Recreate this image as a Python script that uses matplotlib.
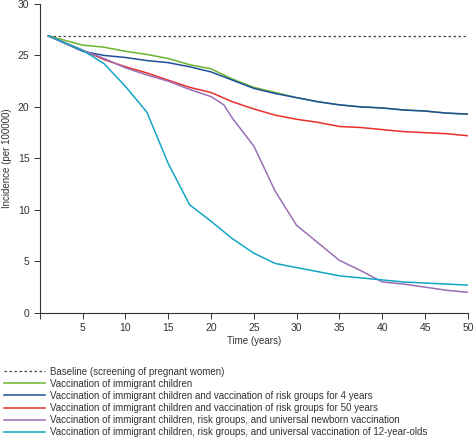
import matplotlib.pyplot as plt
from matplotlib.lines import Line2D

years = [1, 5, 7.5, 10, 12.5, 15, 17.5, 20, 22.5, 25, 27.5, 30, 32.5, 35, 37.5, 40, 42.5, 45, 47.5, 50]
baseline = 26.9
green = [26.9, 26.0, 25.8, 25.4, 25.1, 24.7, 24.1, 23.7, 22.7, 21.9, 21.4, 20.9, 20.5, 20.2, 20.0, 19.9, 19.7, 19.6, 19.4, 19.3]
blue = [26.9, 25.4, 25.0, 24.8, 24.5, 24.3, 23.9, 23.4, 22.6, 21.8, 21.3, 20.9, 20.5, 20.2, 20.0, 19.9, 19.7, 19.6, 19.4, 19.3]
red = [26.9, 25.5, 24.6, 23.9, 23.3, 22.6, 21.9, 21.4, 20.5, 19.8, 19.2, 18.8, 18.5, 18.1, 18.0, 17.8, 17.6, 17.5, 17.4, 17.2]
purple_years = [1, 5, 7.5, 10, 12.5, 15, 17.5, 20, 21.5, 22.5, 25, 27.5, 30, 32.5, 35, 37.5, 40, 42.5, 45, 47.5, 50]
purple = [26.9, 25.5, 24.7, 23.8, 23.1, 22.5, 21.7, 21.0, 20.2, 18.9, 16.2, 11.8, 8.5, 6.8, 5.1, 4.1, 3.0, 2.8, 2.5, 2.2, 2.0]
cyan_years = [1, 5, 7.5, 10, 12.5, 13.5, 15, 17.5, 20, 22.5, 25, 27.5, 30, 32.5, 35, 37.5, 40, 42.5, 45, 47.5, 50]
cyan = [26.9, 25.5, 24.2, 22.0, 19.5, 17.5, 14.5, 10.5, 8.9, 7.2, 5.8, 4.8, 4.4, 4.0, 3.6, 3.4, 3.2, 3.0, 2.9, 2.8, 2.7]

labels = [
    "Baseline (screening of pregnant women)",
    "Vaccination of immigrant children",
    "Vaccination of immigrant children and vaccination of risk groups for 4 years",
    "Vaccination of immigrant children and vaccination of risk groups for 50 years",
    "Vaccination of immigrant children, risk groups, and universal newborn vaccination",
    "Vaccination of immigrant children, risk groups, and universal vaccination of 12-year-olds",
]
colors = ["#444444", "#6ab42d", "#1f4e9c", "#e8302a", "#9a6fb8", "#12a6c4"]

plt.rcParams['font.family'] = ['Liberation Sans', 'DejaVu Sans']
fig = plt.figure(figsize=(4.74, 4.37), dpi=100)
ax = fig.add_axes([0.084, 0.284, 0.903, 0.707])

ax.plot([1, 50], [baseline, baseline], color=colors[0], ls=(0, (2, 2)), lw=0.9)
ax.plot(years, green, color=colors[1], lw=1.1)
ax.plot(years, blue, color=colors[2], lw=1.1)
ax.plot(years, red, color=colors[3], lw=1.1)
ax.plot(purple_years, purple, color=colors[4], lw=1.1)
ax.plot(cyan_years, cyan, color=colors[5], lw=1.1)

ax.set_xlim(0, 50)
ax.set_ylim(0, 30)
ax.set_xticks(range(0, 51, 5))
ax.set_xticklabels([""] + [str(v) for v in range(5, 51, 5)])
ax.set_yticks(range(0, 31, 5))
ax.tick_params(labelsize=7.5, colors="#333333", length=4, width=0.7)
for s in ["top", "right"]:
    ax.spines[s].set_visible(False)
for s in ["left", "bottom"]:
    ax.spines[s].set_linewidth(0.8)
    ax.spines[s].set_color("#333333")
ax.set_xlabel("Time (years)", fontsize=7, color="#333333", labelpad=2)
ax.set_ylabel("Incidence (per 100000)", fontsize=7, color="#333333", labelpad=4)

handles = [Line2D([], [], color=colors[0], ls=(0, (2, 2)), lw=0.9)]
handles += [Line2D([], [], color=c, lw=1.1) for c in colors[1:]]
fig.legend(handles, labels, loc="upper left", bbox_to_anchor=(0.0, 0.17),
           frameon=False, fontsize=7, handlelength=4.2, labelspacing=0.22,
           handletextpad=0.5, borderaxespad=0, labelcolor="#333333")

fig.savefig("out.png", dpi=100)
